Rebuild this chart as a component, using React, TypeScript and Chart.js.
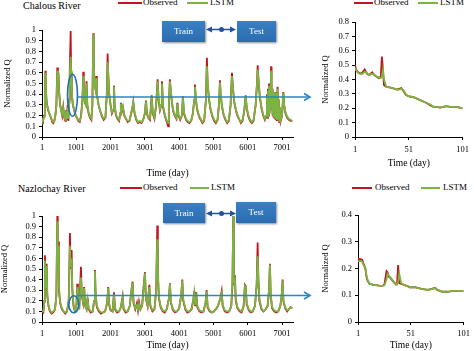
import React, { useEffect, useRef } from 'react';
import { Chart, registerables } from 'chart.js';
Chart.register(...registerables);

// ---------- Data ----------
const chalousDays = [
  1, 30, 60, 85, 100, 110, 130, 150, 180, 210,
  240, 270, 300, 330, 360, 390, 420, 447, 465, 480,
  500, 530, 560, 590, 620, 650, 680, 700, 720, 750,
  770, 790, 810, 837, 850, 870, 900, 940, 980, 1020,
  1060, 1100, 1140, 1180, 1205, 1220, 1250, 1280, 1300, 1320,
  1360, 1400, 1440, 1470, 1497, 1510, 1530, 1560, 1580, 1600,
  1650, 1700, 1750, 1800, 1850, 1890, 1915, 1930, 1960, 2000,
  2040, 2080, 2100, 2120, 2160, 2200, 2250, 2280, 2300, 2330,
  2360, 2400, 2450, 2500, 2550, 2600, 2640, 2663, 2700, 2750,
  2800, 2850, 2900, 2950, 3000, 3033, 3060, 3100, 3150, 3200,
  3230, 3280, 3330, 3373, 3400, 3440, 3480, 3500, 3530, 3580,
  3630, 3680, 3700, 3730, 3750, 3780, 3820, 3870, 3920, 3950,
  3980, 4030, 4080, 4110, 4140, 4200, 4250, 4300, 4350, 4400,
  4440, 4460, 4490, 4530, 4580, 4630, 4680, 4730, 4780, 4810,
  4830, 4870, 4920, 4970, 5020, 5070, 5120, 5160, 5190, 5210,
  5250, 5300, 5350, 5400, 5450, 5500, 5540, 5570, 5610, 5660,
  5710, 5760, 5800, 5850, 5900, 5940, 5970, 6020, 6070, 6120,
  6170, 6230, 6270, 6290, 6310, 6350, 6400, 6450, 6500, 6540,
  6560, 6575, 6590, 6605, 6620, 6635, 6650, 6665, 6680, 6695,
  6710, 6725, 6740, 6755, 6770, 6785, 6800, 6815, 6830, 6845,
  6870, 6890, 6905, 6920, 6940, 6960, 7000, 7040, 7060, 7100,
  7150, 7200, 7250, 7300,
];
const chalousObs = [
  0.17, 0.15, 0.20, 0.35, 0.62, 0.48, 0.35, 0.30, 0.25, 0.22,
  0.20, 0.17, 0.14, 0.13, 0.15, 0.20, 0.30, 0.65, 0.55, 0.60,
  0.42, 0.30, 0.25, 0.20, 0.28, 0.18, 0.15, 0.25, 0.16, 0.30,
  0.15, 0.35, 0.62, 0.99, 0.60, 0.40, 0.30, 0.25, 0.20, 0.18,
  0.15, 0.14, 0.20, 0.35, 0.61, 0.45, 0.32, 0.30, 0.52, 0.30,
  0.22, 0.18, 0.16, 0.30, 0.97, 0.60, 0.50, 0.45, 0.57, 0.40,
  0.30, 0.24, 0.19, 0.16, 0.18, 0.40, 0.78, 0.60, 0.40, 0.30,
  0.22, 0.25, 0.48, 0.28, 0.20, 0.17, 0.15, 0.22, 0.32, 0.24,
  0.28, 0.20, 0.17, 0.14, 0.15, 0.22, 0.28, 0.33, 0.22, 0.16,
  0.13, 0.14, 0.13, 0.16, 0.22, 0.34, 0.22, 0.18, 0.16, 0.39,
  0.22, 0.17, 0.30, 0.54, 0.35, 0.25, 0.30, 0.52, 0.28, 0.20,
  0.15, 0.10, 0.30, 0.54, 0.45, 0.35, 0.25, 0.20, 0.17, 0.32,
  0.20, 0.16, 0.20, 0.38, 0.22, 0.16, 0.14, 0.13, 0.15, 0.22,
  0.35, 0.49, 0.34, 0.25, 0.19, 0.16, 0.13, 0.15, 0.35, 0.74,
  0.50, 0.35, 0.25, 0.19, 0.15, 0.13, 0.16, 0.30, 0.53, 0.40,
  0.28, 0.20, 0.16, 0.13, 0.15, 0.30, 0.60, 0.45, 0.32, 0.24,
  0.19, 0.16, 0.13, 0.15, 0.25, 0.39, 0.27, 0.19, 0.15, 0.13,
  0.15, 0.30, 0.50, 0.67, 0.55, 0.38, 0.27, 0.20, 0.16, 0.20,
  0.40, 0.18, 0.45, 0.20, 0.50, 0.22, 0.45, 0.25, 0.66, 0.30,
  0.45, 0.20, 0.42, 0.18, 0.40, 0.17, 0.38, 0.16, 0.42, 0.15,
  0.47, 0.16, 0.35, 0.14, 0.28, 0.15, 0.20, 0.42, 0.30, 0.22,
  0.18, 0.16, 0.15, 0.15,
];
const chalousLstm = [
  0.17, 0.16, 0.19, 0.33, 0.60, 0.48, 0.36, 0.30, 0.26, 0.22,
  0.20, 0.18, 0.15, 0.14, 0.15, 0.20, 0.29, 0.62, 0.55, 0.60,
  0.42, 0.30, 0.25, 0.21, 0.27, 0.19, 0.16, 0.24, 0.17, 0.28,
  0.17, 0.32, 0.58, 0.75, 0.62, 0.42, 0.31, 0.25, 0.21, 0.18,
  0.16, 0.15, 0.19, 0.33, 0.57, 0.46, 0.33, 0.30, 0.50, 0.32,
  0.23, 0.19, 0.17, 0.30, 0.96, 0.62, 0.50, 0.45, 0.55, 0.41,
  0.30, 0.24, 0.20, 0.17, 0.18, 0.38, 0.70, 0.62, 0.41, 0.30,
  0.23, 0.25, 0.47, 0.30, 0.21, 0.18, 0.16, 0.22, 0.31, 0.25,
  0.28, 0.21, 0.17, 0.15, 0.15, 0.22, 0.28, 0.32, 0.23, 0.17,
  0.14, 0.15, 0.14, 0.16, 0.22, 0.33, 0.23, 0.18, 0.17, 0.37,
  0.23, 0.18, 0.30, 0.52, 0.36, 0.26, 0.30, 0.50, 0.30, 0.21,
  0.16, 0.13, 0.30, 0.52, 0.46, 0.36, 0.26, 0.21, 0.18, 0.31,
  0.21, 0.17, 0.20, 0.37, 0.23, 0.17, 0.15, 0.14, 0.15, 0.22,
  0.34, 0.47, 0.35, 0.26, 0.20, 0.17, 0.14, 0.16, 0.33, 0.66,
  0.52, 0.36, 0.26, 0.20, 0.16, 0.14, 0.16, 0.29, 0.51, 0.41,
  0.29, 0.21, 0.17, 0.14, 0.16, 0.29, 0.57, 0.46, 0.33, 0.25,
  0.20, 0.16, 0.14, 0.16, 0.25, 0.38, 0.28, 0.20, 0.16, 0.14,
  0.16, 0.29, 0.50, 0.63, 0.56, 0.39, 0.28, 0.21, 0.17, 0.20,
  0.38, 0.19, 0.43, 0.21, 0.48, 0.23, 0.45, 0.25, 0.62, 0.30,
  0.45, 0.21, 0.42, 0.19, 0.40, 0.18, 0.38, 0.17, 0.41, 0.16,
  0.45, 0.17, 0.35, 0.15, 0.28, 0.16, 0.20, 0.41, 0.31, 0.23,
  0.19, 0.17, 0.16, 0.15,
];

const nazDays = [
  1, 40, 70, 87, 105, 136, 155, 190, 230, 280,
  330, 380, 420, 447, 460, 477, 495, 530, 580, 630,
  680, 730, 780, 816, 835, 865, 885, 920, 960, 1000,
  1030, 1050, 1090, 1137, 1160, 1200, 1230, 1260, 1300, 1330,
  1360, 1420, 1480, 1520, 1545, 1565, 1600, 1660, 1720, 1780,
  1840, 1900, 1933, 1960, 2000, 2060, 2100, 2130, 2190, 2250,
  2300, 2352, 2380, 2440, 2500, 2560, 2610, 2643, 2670, 2720,
  2770, 2800, 2830, 2870, 2920, 2960, 3003, 3030, 3080, 3130,
  3160, 3220, 3280, 3330, 3362, 3380, 3410, 3460, 3520, 3580,
  3640, 3700, 3732, 3760, 3820, 3880, 3940, 4000, 4060, 4091,
  4120, 4180, 4240, 4300, 4360, 4410, 4441, 4470, 4500, 4530,
  4590, 4650, 4710, 4770, 4802, 4830, 4890, 4950, 5010, 5070,
  5130, 5200, 5240, 5270, 5330, 5400, 5460, 5520, 5555, 5578,
  5595, 5627, 5650, 5700, 5760, 5820, 5880, 5918, 5940, 5970,
  6030, 6090, 6150, 6210, 6260, 6289, 6310, 6340, 6400, 6460,
  6520, 6580, 6620, 6647, 6670, 6710, 6770, 6830, 6890, 6950,
  6990, 7018, 7040, 7090, 7150, 7200, 7250, 7300,
];
const nazObs = [
  0.10, 0.09, 0.20, 0.63, 0.30, 0.55, 0.25, 0.15, 0.10, 0.08,
  0.09, 0.12, 0.25, 1.00, 0.55, 0.76, 0.30, 0.18, 0.12, 0.10,
  0.08, 0.10, 0.20, 0.84, 0.50, 0.68, 0.30, 0.15, 0.10, 0.12,
  0.36, 0.18, 0.15, 0.52, 0.25, 0.18, 0.33, 0.15, 0.12, 0.23,
  0.12, 0.09, 0.10, 0.20, 0.49, 0.25, 0.14, 0.10, 0.08, 0.09,
  0.10, 0.18, 0.33, 0.16, 0.11, 0.10, 0.28, 0.12, 0.09, 0.10,
  0.14, 0.24, 0.12, 0.09, 0.10, 0.15, 0.30, 0.38, 0.18, 0.12,
  0.18, 0.11, 0.19, 0.12, 0.15, 0.32, 0.47, 0.22, 0.15, 0.35,
  0.15, 0.10, 0.12, 0.30, 0.91, 0.45, 0.22, 0.14, 0.10, 0.09,
  0.12, 0.22, 0.365, 0.18, 0.11, 0.09, 0.10, 0.13, 0.25, 0.40,
  0.20, 0.12, 0.09, 0.10, 0.12, 0.20, 0.295, 0.15, 0.28, 0.14,
  0.10, 0.09, 0.10, 0.18, 0.30, 0.14, 0.10, 0.09, 0.10, 0.12,
  0.15, 0.22, 0.29, 0.15, 0.10, 0.09, 0.10, 0.15, 0.35, 1.00,
  0.35, 0.44, 0.20, 0.13, 0.10, 0.09, 0.15, 0.35, 0.34, 0.17,
  0.11, 0.09, 0.10, 0.15, 0.35, 0.75, 0.40, 0.20, 0.12, 0.10,
  0.12, 0.15, 0.30, 0.55, 0.25, 0.13, 0.10, 0.09, 0.10, 0.15,
  0.25, 0.40, 0.20, 0.13, 0.10, 0.12, 0.14, 0.13,
];
const nazLstm = [
  0.10, 0.10, 0.19, 0.58, 0.32, 0.53, 0.27, 0.16, 0.11, 0.09,
  0.10, 0.12, 0.24, 0.95, 0.58, 0.72, 0.33, 0.19, 0.13, 0.10,
  0.09, 0.10, 0.19, 0.72, 0.52, 0.60, 0.32, 0.16, 0.11, 0.12,
  0.33, 0.19, 0.15, 0.42, 0.27, 0.19, 0.32, 0.16, 0.12, 0.21,
  0.13, 0.10, 0.10, 0.20, 0.48, 0.27, 0.15, 0.11, 0.09, 0.09,
  0.10, 0.18, 0.32, 0.17, 0.12, 0.10, 0.26, 0.13, 0.10, 0.10,
  0.14, 0.23, 0.13, 0.10, 0.10, 0.15, 0.30, 0.37, 0.19, 0.13,
  0.16, 0.12, 0.17, 0.12, 0.15, 0.30, 0.46, 0.23, 0.16, 0.33,
  0.16, 0.11, 0.12, 0.29, 0.78, 0.48, 0.24, 0.15, 0.11, 0.10,
  0.12, 0.22, 0.36, 0.19, 0.12, 0.10, 0.10, 0.13, 0.25, 0.39,
  0.21, 0.13, 0.10, 0.10, 0.12, 0.20, 0.28, 0.16, 0.27, 0.15,
  0.11, 0.10, 0.10, 0.18, 0.29, 0.15, 0.11, 0.09, 0.10, 0.12,
  0.15, 0.22, 0.27, 0.16, 0.11, 0.10, 0.10, 0.15, 0.40, 1.00,
  0.38, 0.40, 0.22, 0.14, 0.11, 0.10, 0.15, 0.34, 0.33, 0.18,
  0.12, 0.10, 0.10, 0.15, 0.34, 0.62, 0.42, 0.22, 0.13, 0.10,
  0.12, 0.15, 0.30, 0.54, 0.27, 0.14, 0.11, 0.10, 0.10, 0.15,
  0.25, 0.39, 0.21, 0.14, 0.11, 0.12, 0.14, 0.13,
];

const chalousTestDays = [
  1, 2, 4, 6, 8, 10, 12, 14, 17, 19, 21, 23, 25, 26, 27, 28,
  30, 33, 36, 38, 40, 42, 44, 46, 48, 50, 53, 56, 59, 62, 65, 68, 71, 74, 77, 80,
  83, 86, 89, 92, 95, 98, 101,
];
const chalousTestObs = [
  0.50, 0.47, 0.45, 0.44, 0.45, 0.47, 0.44, 0.43, 0.45, 0.43, 0.42, 0.41, 0.42, 0.56, 0.45, 0.36,
  0.35, 0.345, 0.34, 0.335, 0.33, 0.335, 0.34, 0.32, 0.295, 0.285, 0.28, 0.275, 0.265, 0.255, 0.245, 0.235, 0.22, 0.21, 0.21, 0.205,
  0.21, 0.215, 0.21, 0.21, 0.21, 0.205, 0.20,
];
const chalousTestLstm = [
  0.48, 0.465, 0.445, 0.44, 0.44, 0.455, 0.445, 0.43, 0.44, 0.435, 0.42, 0.415, 0.41, 0.42, 0.47, 0.40,
  0.35, 0.345, 0.34, 0.335, 0.33, 0.33, 0.335, 0.325, 0.30, 0.285, 0.28, 0.275, 0.265, 0.255, 0.245, 0.235, 0.225, 0.21, 0.21, 0.205,
  0.21, 0.215, 0.21, 0.21, 0.21, 0.205, 0.20,
];

const nazTestDays = [
  1, 2, 4, 5, 6, 8, 9, 10, 12, 15, 18, 21, 24, 26, 28, 29,
  30, 32, 35, 37, 38, 39, 40, 42, 45, 48, 50, 55, 61, 67, 71, 74,
  76, 81, 86, 91, 96, 101,
];
const nazTestObs = [
  0.235, 0.236, 0.234, 0.232, 0.22, 0.20, 0.17, 0.155, 0.142, 0.14, 0.138, 0.136, 0.135, 0.14, 0.19, 0.185,
  0.17, 0.163, 0.148, 0.14, 0.145, 0.213, 0.145, 0.142, 0.138, 0.134, 0.13, 0.13, 0.124, 0.12, 0.124, 0.128,
  0.12, 0.113, 0.113, 0.116, 0.116, 0.116,
];
const nazTestLstm = [
  0.225, 0.228, 0.228, 0.225, 0.215, 0.20, 0.175, 0.158, 0.143, 0.14, 0.138, 0.136, 0.135, 0.137, 0.16, 0.18,
  0.175, 0.165, 0.15, 0.142, 0.14, 0.15, 0.18, 0.145, 0.138, 0.134, 0.13, 0.13, 0.124, 0.12, 0.123, 0.127,
  0.121, 0.113, 0.113, 0.116, 0.116, 0.116,
];

const longXTicks = [1, 1001, 2001, 3001, 4001, 5001, 6001, 7001];
const shortXTicks = [1, 51, 101];
const yTicks10 = [0, 0.1, 0.2, 0.3, 0.4, 0.5, 0.6, 0.7, 0.8, 0.9, 1];
const yTicks08 = [0, 0.1, 0.2, 0.3, 0.4, 0.5, 0.6, 0.7, 0.8];
const yTicks04 = [0, 0.1, 0.2, 0.3, 0.4];

// ---------- Styles ----------
const RED = '#c0161f';
const GREEN = '#7ab441';
const SERIF = "'Liberation Serif', 'Times New Roman', serif";

type Callout = { day: number; value: number; rx: number; ry: number; arrowValue: number; startDx: number; endX: number };
type Spec = {
  left: number; top: number; width: number; height: number;
  yWidth: number; xHeight: number; padTop: number; padRight: number;
  xMin: number; xMax: number; yMax: number; xTicks: number[]; yTicks: number[];
  days: number[]; obs: number[]; lstm: number[];
  yTitlePad: number; xTitlePad: number; xTickPad: number;
  callout?: Callout;
};

function makeCallout(c: Callout) {
  return {
    id: 'callout',
    afterDatasetsDraw(chart: any) {
      const { ctx } = chart;
      const x = chart.scales.x, y = chart.scales.y;
      const cx = x.getPixelForValue(c.day);
      const cy = y.getPixelForValue(c.value);
      const ay = y.getPixelForValue(c.arrowValue);
      ctx.save();
      ctx.lineWidth = 1.6;
      ctx.strokeStyle = '#1f6db5';
      ctx.beginPath();
      ctx.ellipse(cx, cy, c.rx, c.ry, 0, 0, Math.PI * 2);
      ctx.stroke();
      ctx.strokeStyle = '#2a85c8';
      ctx.beginPath();
      ctx.moveTo(cx + c.startDx, ay);
      ctx.lineTo(c.endX, ay);
      ctx.stroke();
      ctx.beginPath();
      ctx.moveTo(c.endX - 6, ay - 3.5);
      ctx.lineTo(c.endX, ay);
      ctx.lineTo(c.endX - 6, ay + 3.5);
      ctx.stroke();
      ctx.restore();
    },
  };
}

function Panel({ spec }: { spec: Spec }) {
  const ref = useRef<HTMLCanvasElement>(null);
  useEffect(() => {
    const s = spec;
    const pts = (arr: number[]) => s.days.map((d, i) => ({ x: d, y: arr[i] }));
    const tickFont = { family: SERIF, size: 8.5 };
    const chart = new Chart(ref.current as HTMLCanvasElement, {
      type: 'line',
      data: {
        datasets: [
          { label: 'Observed', data: pts(s.obs), borderColor: RED, backgroundColor: RED, borderWidth: 1.8, pointRadius: 0, order: 2 },
          { label: 'LSTM', data: pts(s.lstm), borderColor: GREEN, backgroundColor: GREEN, borderWidth: 1.8, pointRadius: 0, order: 1 },
        ],
      },
      options: {
        animation: false,
        responsive: false,
        maintainAspectRatio: false,
        events: [],
        layout: { padding: { top: s.padTop, right: s.padRight, left: 0, bottom: 0 } },
        plugins: { legend: { display: false }, tooltip: { enabled: false }, title: { display: false } },
        scales: {
          x: {
            type: 'linear',
            min: s.xMin,
            max: s.xMax,
            afterBuildTicks: (sc: any) => { sc.ticks = s.xTicks.map((v) => ({ value: v })); },
            afterFit: (sc: any) => { sc.height = s.xHeight; },
            ticks: { color: '#000', font: tickFont, padding: s.xTickPad, maxRotation: 0, autoSkip: false, callback: (v: any) => String(v) },
            grid: { display: true, drawOnChartArea: false, drawTicks: true, tickLength: 3, color: '#000' },
            border: { display: true, color: '#000', width: 1 },
            title: { display: true, text: 'Time (day)', color: '#000', font: { family: SERIF, size: 9.5 }, padding: { top: 0, bottom: s.xTitlePad } },
          },
          y: {
            type: 'linear',
            min: 0,
            max: s.yMax,
            afterBuildTicks: (sc: any) => { sc.ticks = s.yTicks.map((v) => ({ value: v })); },
            afterFit: (sc: any) => { sc.width = s.yWidth; },
            ticks: { color: '#000', font: tickFont, padding: 3, autoSkip: false, callback: (v: any) => String(Math.round(Number(v) * 10) / 10) },
            grid: { display: true, drawOnChartArea: false, drawTicks: true, tickLength: 3, color: '#000' },
            border: { display: true, color: '#000', width: 1 },
            title: { display: true, text: 'Normalized Q', color: '#000', font: { family: SERIF, size: 8.5 }, padding: { top: s.yTitlePad, bottom: 0 } },
          },
        },
      },
      plugins: s.callout ? [makeCallout(s.callout)] : [],
    } as any);
    return () => chart.destroy();
  }, [spec]);
  return (
    <canvas
      ref={ref}
      width={spec.width}
      height={spec.height}
      style={{ position: 'absolute', left: spec.left, top: spec.top, width: spec.width, height: spec.height }}
    />
  );
}

const specA: Spec = {
  left: 0, top: 20, width: 316, height: 160, yWidth: 42, xHeight: 43, padTop: 10, padRight: 23,
  xMin: 1, xMax: 7320, yMax: 1, xTicks: longXTicks, yTicks: yTicks10,
  days: chalousDays, obs: chalousObs, lstm: chalousLstm,
  yTitlePad: 3, xTitlePad: 1, xTickPad: 3,
  callout: { day: 890, value: 0.39, rx: 5, ry: 21, arrowValue: 0.374, startDx: 4.5, endX: 310 },
};
const specB: Spec = {
  left: 312, top: 12, width: 162, height: 158, yWidth: 43, xHeight: 33, padTop: 10, padRight: 7,
  xMin: 1, xMax: 101, yMax: 0.8, xTicks: shortXTicks, yTicks: yTicks08,
  days: chalousTestDays, obs: chalousTestObs, lstm: chalousTestLstm,
  yTitlePad: 9, xTitlePad: 1, xTickPad: 5,
};
const specC: Spec = {
  left: 0, top: 206, width: 316, height: 145, yWidth: 42, xHeight: 29, padTop: 10, padRight: 23,
  xMin: 1, xMax: 7320, yMax: 1, xTicks: longXTicks, yTicks: yTicks10,
  days: nazDays, obs: nazObs, lstm: nazLstm,
  yTitlePad: 0, xTitlePad: 0, xTickPad: 4,
  callout: { day: 930, value: 0.167, rx: 5, ry: 8.5, arrowValue: 0.25, startDx: 3, endX: 310 },
};
const specD: Spec = {
  left: 312, top: 205, width: 162, height: 146, yWidth: 46, xHeight: 29, padTop: 10, padRight: 7,
  xMin: 1, xMax: 101, yMax: 0.4, xTicks: shortXTicks, yTicks: yTicks04,
  days: nazTestDays, obs: nazTestObs, lstm: nazTestLstm,
  yTitlePad: 9, xTitlePad: 0, xTickPad: 4,
};

function Legend({ y, redX, redW, obsX, greenX, greenW, lstmX }: { y: number; redX: number; redW: number; obsX: number; greenX: number; greenW: number; lstmX: number }) {
  const text: React.CSSProperties = { position: 'absolute', top: y - 4.5, fontSize: 9, lineHeight: '9px', whiteSpace: 'nowrap', color: '#000' };
  return (
    <>
      <div style={{ position: 'absolute', left: redX, top: y - 1, width: redW, height: 2, background: RED }} />
      <span style={{ ...text, left: obsX }}>Observed</span>
      <div style={{ position: 'absolute', left: greenX, top: y - 1, width: greenW, height: 2, background: GREEN }} />
      <span style={{ ...text, left: lstmX }}>LSTM</span>
    </>
  );
}

function Box({ x, y, w, h, label }: { x: number; y: number; w: number; h: number; label: string }) {
  return (
    <div
      style={{
        position: 'absolute', left: x, top: y, width: w, height: h,
        background: 'linear-gradient(#3a80c4, #2b6cb0)', color: '#fff',
        fontSize: 9, lineHeight: h + 'px', textAlign: 'center',
        boxShadow: '1px 1px 2px rgba(0,0,0,0.45)',
      }}
    >
      {label}
    </div>
  );
}

export default function App() {
  return (
    <div style={{ position: 'absolute', left: 0, top: 0, width: 474, height: 351, overflow: 'hidden', background: '#fff', fontFamily: SERIF }}>
      <Panel spec={specA} />
      <Panel spec={specB} />
      <Panel spec={specC} />
      <Panel spec={specD} />

      <div style={{ position: 'absolute', left: 23, top: 1, fontSize: 10, lineHeight: '10px', whiteSpace: 'nowrap' }}>Chalous River</div>
      <div style={{ position: 'absolute', left: 18, top: 184, fontSize: 10, lineHeight: '10px', whiteSpace: 'nowrap' }}>Nazlochay River</div>

      <Legend y={2.5} redX={118} redW={24} obsX={143} greenX={187} greenW={21} lstmX={210} />
      <Legend y={2.5} redX={354} redW={19} obsX={374} greenX={418} greenW={20} lstmX={440} />
      <Legend y={187.5} redX={120} redW={22} obsX={143} greenX={190} greenW={19} lstmX={211} />
      <Legend y={187.5} redX={352} redW={20} obsX={375} greenX={421} greenW={19} lstmX={443} />

      <svg style={{ position: 'absolute', left: 0, top: 0 }} width={474} height={351}>
        {[29.5, 213.5].map((y) => (
          <g key={y} fill="#24509a" stroke="#24509a">
            <line x1={211} y1={y} x2={231} y2={y} strokeWidth={1.5} />
            <polygon points={`206,${y} 212,${y - 3} 212,${y + 3}`} stroke="none" />
            <polygon points={`236,${y} 230,${y - 3} 230,${y + 3}`} stroke="none" />
            <circle cx={221.5} cy={y} r={2.5} stroke="none" />
          </g>
        ))}
      </svg>

      <Box x={162} y={21} w={43} h={21} label="Train" />
      <Box x={237} y={21} w={39} h={21} label="Test" />
      <Box x={163} y={203} w={42} h={20} label="Train" />
      <Box x={236} y={202} w={40} h={21} label="Test" />
    </div>
  );
}
